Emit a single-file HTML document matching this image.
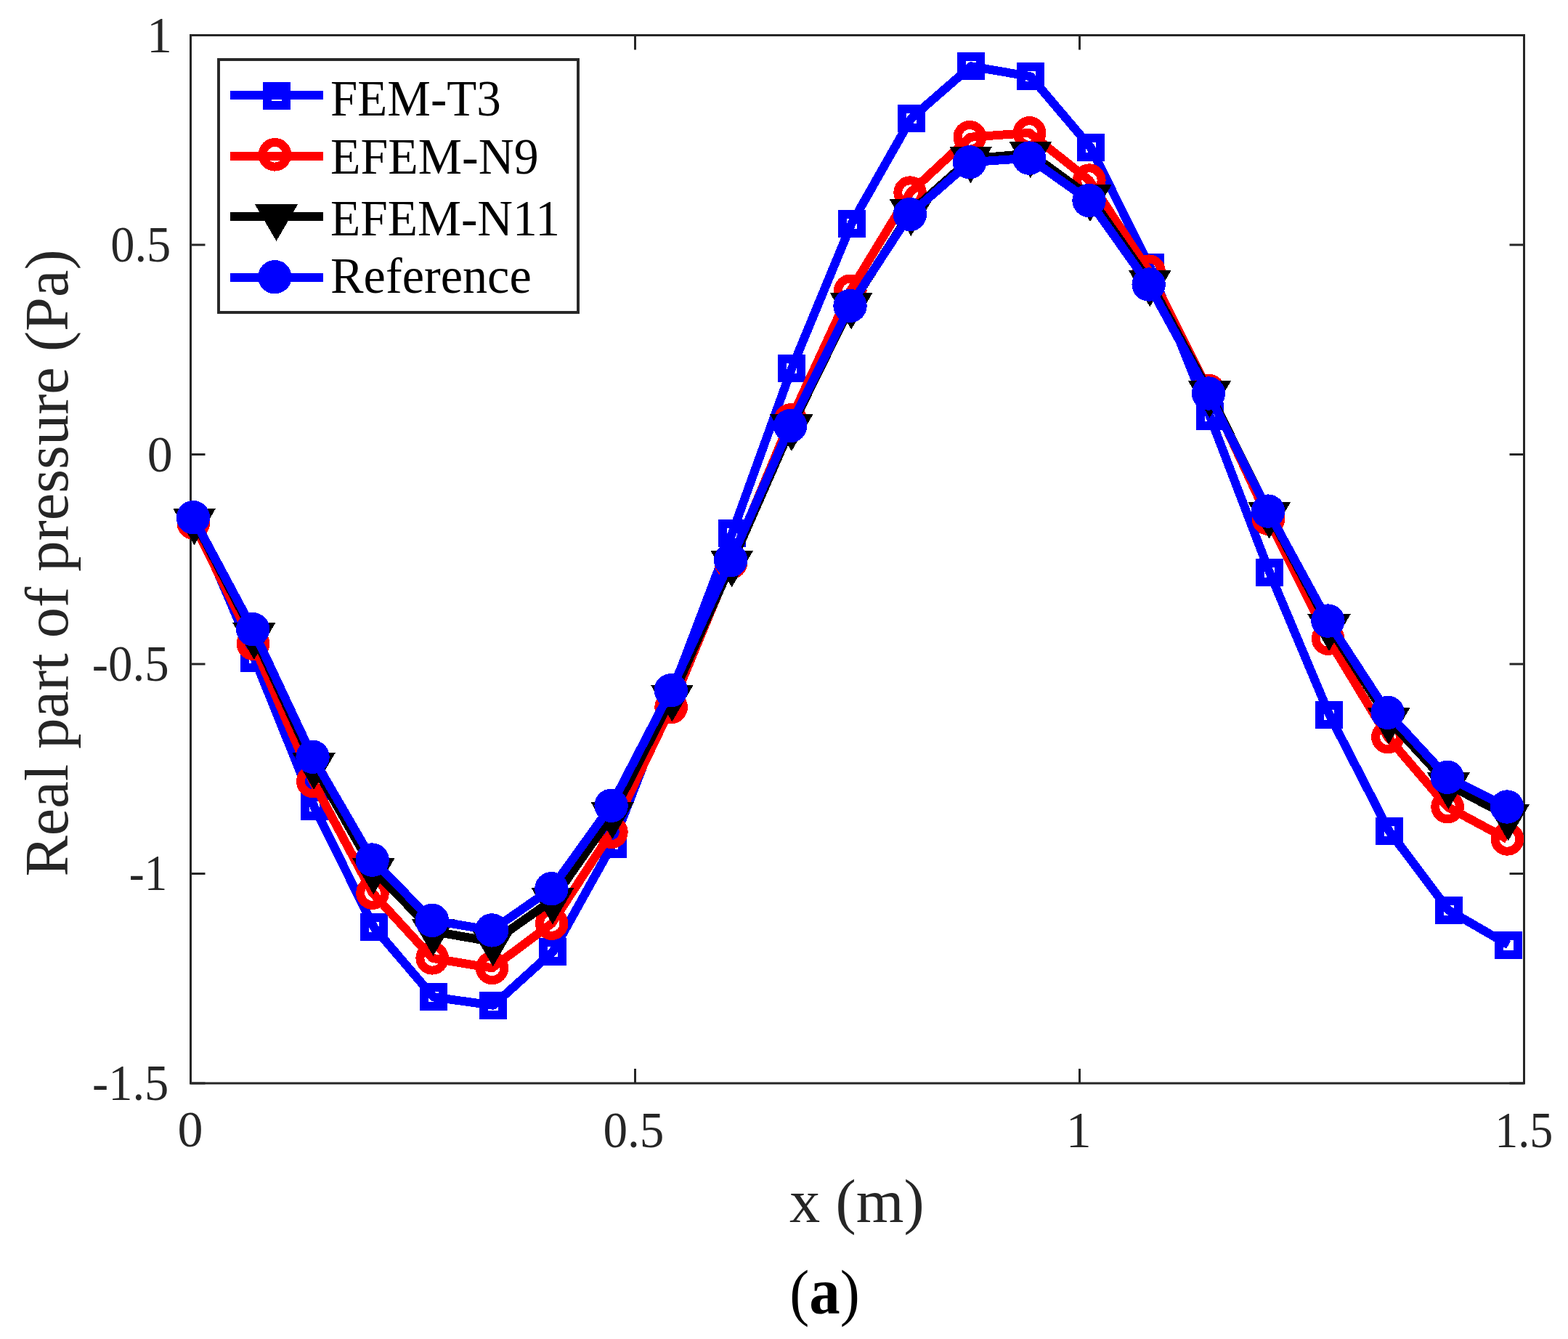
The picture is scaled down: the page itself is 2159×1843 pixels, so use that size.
<!DOCTYPE html><html><head><meta charset="utf-8"><style>html,body{margin:0;padding:0;background:#fff;}svg{display:block;}</style></head><body>
<svg width="2159" height="1843" viewBox="0 0 2159 1843">
<rect x="0" y="0" width="2159" height="1843" fill="#ffffff"/>
<rect x="262.5" y="48.5" width="1836.0" height="1442.5" fill="none" stroke="#262626" stroke-width="3"/>
<line x1="262.5" y1="1491.0" x2="262.5" y2="1471.0" stroke="#262626" stroke-width="3"/>
<line x1="262.5" y1="48.5" x2="262.5" y2="68.5" stroke="#262626" stroke-width="3"/>
<line x1="874.5" y1="1491.0" x2="874.5" y2="1471.0" stroke="#262626" stroke-width="3"/>
<line x1="874.5" y1="48.5" x2="874.5" y2="68.5" stroke="#262626" stroke-width="3"/>
<line x1="1486.5" y1="1491.0" x2="1486.5" y2="1471.0" stroke="#262626" stroke-width="3"/>
<line x1="1486.5" y1="48.5" x2="1486.5" y2="68.5" stroke="#262626" stroke-width="3"/>
<line x1="2098.5" y1="1491.0" x2="2098.5" y2="1471.0" stroke="#262626" stroke-width="3"/>
<line x1="2098.5" y1="48.5" x2="2098.5" y2="68.5" stroke="#262626" stroke-width="3"/>
<line x1="262.5" y1="48.5" x2="282.5" y2="48.5" stroke="#262626" stroke-width="3"/>
<line x1="2098.5" y1="48.5" x2="2078.5" y2="48.5" stroke="#262626" stroke-width="3"/>
<line x1="262.5" y1="337.0" x2="282.5" y2="337.0" stroke="#262626" stroke-width="3"/>
<line x1="2098.5" y1="337.0" x2="2078.5" y2="337.0" stroke="#262626" stroke-width="3"/>
<line x1="262.5" y1="625.5" x2="282.5" y2="625.5" stroke="#262626" stroke-width="3"/>
<line x1="2098.5" y1="625.5" x2="2078.5" y2="625.5" stroke="#262626" stroke-width="3"/>
<line x1="262.5" y1="914.0" x2="282.5" y2="914.0" stroke="#262626" stroke-width="3"/>
<line x1="2098.5" y1="914.0" x2="2078.5" y2="914.0" stroke="#262626" stroke-width="3"/>
<line x1="262.5" y1="1202.5" x2="282.5" y2="1202.5" stroke="#262626" stroke-width="3"/>
<line x1="2098.5" y1="1202.5" x2="2078.5" y2="1202.5" stroke="#262626" stroke-width="3"/>
<line x1="262.5" y1="1491.0" x2="282.5" y2="1491.0" stroke="#262626" stroke-width="3"/>
<line x1="2098.5" y1="1491.0" x2="2078.5" y2="1491.0" stroke="#262626" stroke-width="3"/>
<g shape-rendering="crispEdges">
<polyline points="268.0,714.0 350.2,905.9 432.5,1110.1 514.7,1276.1 596.9,1372.4 679.2,1383.7 761.4,1309.5 843.6,1161.9 925.8,951.0 1008.1,734.0 1090.3,506.7 1172.5,307.8 1254.8,162.7 1337.0,91.2 1419.2,105.4 1501.5,202.5 1583.7,367.9 1665.9,572.9 1748.1,787.8 1830.4,983.7 1912.6,1143.7 1994.8,1252.9 2077.1,1300.5" fill="none" stroke="#0000ff" stroke-width="12" stroke-linejoin="round"/>
<rect x="337.2" y="892.9" width="26" height="26" fill="none" stroke="#0000ff" stroke-width="12"/>
<rect x="419.5" y="1097.1" width="26" height="26" fill="none" stroke="#0000ff" stroke-width="12"/>
<rect x="501.7" y="1263.1" width="26" height="26" fill="none" stroke="#0000ff" stroke-width="12"/>
<rect x="583.9" y="1359.4" width="26" height="26" fill="none" stroke="#0000ff" stroke-width="12"/>
<rect x="666.2" y="1370.7" width="26" height="26" fill="none" stroke="#0000ff" stroke-width="12"/>
<rect x="748.4" y="1296.5" width="26" height="26" fill="none" stroke="#0000ff" stroke-width="12"/>
<rect x="830.6" y="1148.9" width="26" height="26" fill="none" stroke="#0000ff" stroke-width="12"/>
<rect x="995.1" y="721.0" width="26" height="26" fill="none" stroke="#0000ff" stroke-width="12"/>
<rect x="1077.3" y="493.7" width="26" height="26" fill="none" stroke="#0000ff" stroke-width="12"/>
<rect x="1159.5" y="294.8" width="26" height="26" fill="none" stroke="#0000ff" stroke-width="12"/>
<rect x="1241.8" y="149.7" width="26" height="26" fill="none" stroke="#0000ff" stroke-width="12"/>
<rect x="1324.0" y="78.2" width="26" height="26" fill="none" stroke="#0000ff" stroke-width="12"/>
<rect x="1406.2" y="92.4" width="26" height="26" fill="none" stroke="#0000ff" stroke-width="12"/>
<rect x="1488.5" y="189.5" width="26" height="26" fill="none" stroke="#0000ff" stroke-width="12"/>
<rect x="1570.7" y="354.9" width="26" height="26" fill="none" stroke="#0000ff" stroke-width="12"/>
<rect x="1652.9" y="559.9" width="26" height="26" fill="none" stroke="#0000ff" stroke-width="12"/>
<rect x="1735.1" y="774.8" width="26" height="26" fill="none" stroke="#0000ff" stroke-width="12"/>
<rect x="1817.4" y="970.7" width="26" height="26" fill="none" stroke="#0000ff" stroke-width="12"/>
<rect x="1899.6" y="1130.7" width="26" height="26" fill="none" stroke="#0000ff" stroke-width="12"/>
<rect x="1981.8" y="1239.9" width="26" height="26" fill="none" stroke="#0000ff" stroke-width="12"/>
<rect x="2064.1" y="1287.5" width="26" height="26" fill="none" stroke="#0000ff" stroke-width="12"/>
<polyline points="266.3,720.0 348.5,886.1 430.8,1075.5 513.0,1229.1 595.2,1318.8 677.5,1332.4 759.7,1271.1 841.9,1145.3 924.1,973.4 1006.4,774.4 1088.6,578.0 1170.8,400.3 1253.1,265.1 1335.3,188.8 1417.5,182.9 1499.8,248.1 1582.0,373.2 1664.2,537.4 1746.4,714.1 1828.7,879.1 1910.9,1014.5 1993.1,1110.6 2075.4,1154.9" fill="none" stroke="#ff0000" stroke-width="12" stroke-linejoin="round"/>
<circle cx="266.3" cy="720.0" r="16.8" fill="none" stroke="#ff0000" stroke-width="12"/>
<circle cx="348.5" cy="886.1" r="16.8" fill="none" stroke="#ff0000" stroke-width="12"/>
<circle cx="430.8" cy="1075.5" r="16.8" fill="none" stroke="#ff0000" stroke-width="12"/>
<circle cx="513.0" cy="1229.1" r="16.8" fill="none" stroke="#ff0000" stroke-width="12"/>
<circle cx="595.2" cy="1318.8" r="16.8" fill="none" stroke="#ff0000" stroke-width="12"/>
<circle cx="677.5" cy="1332.4" r="16.8" fill="none" stroke="#ff0000" stroke-width="12"/>
<circle cx="759.7" cy="1271.1" r="16.8" fill="none" stroke="#ff0000" stroke-width="12"/>
<circle cx="841.9" cy="1145.3" r="16.8" fill="none" stroke="#ff0000" stroke-width="12"/>
<circle cx="924.1" cy="973.4" r="16.8" fill="none" stroke="#ff0000" stroke-width="12"/>
<circle cx="1006.4" cy="774.4" r="16.8" fill="none" stroke="#ff0000" stroke-width="12"/>
<circle cx="1088.6" cy="578.0" r="16.8" fill="none" stroke="#ff0000" stroke-width="12"/>
<circle cx="1170.8" cy="400.3" r="16.8" fill="none" stroke="#ff0000" stroke-width="12"/>
<circle cx="1253.1" cy="265.1" r="16.8" fill="none" stroke="#ff0000" stroke-width="12"/>
<circle cx="1335.3" cy="188.8" r="16.8" fill="none" stroke="#ff0000" stroke-width="12"/>
<circle cx="1417.5" cy="182.9" r="16.8" fill="none" stroke="#ff0000" stroke-width="12"/>
<circle cx="1499.8" cy="248.1" r="16.8" fill="none" stroke="#ff0000" stroke-width="12"/>
<circle cx="1582.0" cy="373.2" r="16.8" fill="none" stroke="#ff0000" stroke-width="12"/>
<circle cx="1664.2" cy="537.4" r="16.8" fill="none" stroke="#ff0000" stroke-width="12"/>
<circle cx="1746.4" cy="714.1" r="16.8" fill="none" stroke="#ff0000" stroke-width="12"/>
<circle cx="1828.7" cy="879.1" r="16.8" fill="none" stroke="#ff0000" stroke-width="12"/>
<circle cx="1910.9" cy="1014.5" r="16.8" fill="none" stroke="#ff0000" stroke-width="12"/>
<circle cx="1993.1" cy="1110.6" r="16.8" fill="none" stroke="#ff0000" stroke-width="12"/>
<circle cx="2075.4" cy="1154.9" r="16.8" fill="none" stroke="#ff0000" stroke-width="12"/>
<polyline points="267.6,716.5 349.8,874.0 432.1,1053.2 514.3,1197.5 596.5,1282.0 678.8,1296.3 761.0,1238.7 843.2,1121.1 925.4,959.4 1007.7,774.4 1089.9,587.2 1172.1,419.6 1254.4,291.2 1336.6,218.5 1418.8,211.4 1501.0,271.2 1583.3,388.5 1665.5,541.1 1747.7,707.7 1830.0,862.3 1912.2,990.6 1994.4,1080.0 2076.7,1123.5" fill="none" stroke="#000000" stroke-width="12" stroke-linejoin="round"/>
<polygon points="238.0,699.6 297.2,699.6 267.6,750.4" fill="#000000"/>
<polygon points="320.2,857.1 379.4,857.1 349.8,907.9" fill="#000000"/>
<polygon points="402.5,1036.3 461.7,1036.3 432.1,1087.1" fill="#000000"/>
<polygon points="484.7,1180.6 543.9,1180.6 514.3,1231.4" fill="#000000"/>
<polygon points="566.9,1265.1 626.1,1265.1 596.5,1315.9" fill="#000000"/>
<polygon points="649.2,1279.4 708.4,1279.4 678.8,1330.2" fill="#000000"/>
<polygon points="731.4,1221.8 790.6,1221.8 761.0,1272.6" fill="#000000"/>
<polygon points="813.6,1104.2 872.8,1104.2 843.2,1155.0" fill="#000000"/>
<polygon points="895.8,942.5 955.0,942.5 925.4,993.3" fill="#000000"/>
<polygon points="978.1,757.5 1037.3,757.5 1007.7,808.3" fill="#000000"/>
<polygon points="1060.3,570.3 1119.5,570.3 1089.9,621.1" fill="#000000"/>
<polygon points="1142.5,402.7 1201.7,402.7 1172.1,453.5" fill="#000000"/>
<polygon points="1224.8,274.3 1284.0,274.3 1254.4,325.1" fill="#000000"/>
<polygon points="1307.0,201.6 1366.2,201.6 1336.6,252.4" fill="#000000"/>
<polygon points="1389.2,194.5 1448.4,194.5 1418.8,245.3" fill="#000000"/>
<polygon points="1471.5,254.3 1530.6,254.3 1501.0,305.1" fill="#000000"/>
<polygon points="1553.7,371.6 1612.9,371.6 1583.3,422.4" fill="#000000"/>
<polygon points="1635.9,524.2 1695.1,524.2 1665.5,575.0" fill="#000000"/>
<polygon points="1718.1,690.8 1777.3,690.8 1747.7,741.6" fill="#000000"/>
<polygon points="1800.4,845.4 1859.6,845.4 1830.0,896.2" fill="#000000"/>
<polygon points="1882.6,973.7 1941.8,973.7 1912.2,1024.5" fill="#000000"/>
<polygon points="1964.8,1063.1 2024.0,1063.1 1994.4,1113.9" fill="#000000"/>
<polygon points="2047.1,1106.6 2106.3,1106.6 2076.7,1157.4" fill="#000000"/>
<polyline points="266.0,712.2 348.2,866.2 430.5,1041.8 512.7,1183.6 594.9,1266.8 677.2,1280.4 759.4,1223.2 841.6,1108.8 923.8,950.3 1006.1,771.1 1088.3,586.0 1170.5,420.9 1252.8,295.1 1335.0,223.3 1417.2,217.6 1499.5,275.9 1581.7,391.5 1663.9,541.5 1746.1,703.6 1828.4,854.6 1910.6,980.8 1992.8,1069.8 2075.1,1110.5" fill="none" stroke="#0000ff" stroke-width="12" stroke-linejoin="round"/>
<circle cx="266.0" cy="712.2" r="23.2" fill="#0000ff"/>
<circle cx="348.2" cy="866.2" r="23.2" fill="#0000ff"/>
<circle cx="430.5" cy="1041.8" r="23.2" fill="#0000ff"/>
<circle cx="512.7" cy="1183.6" r="23.2" fill="#0000ff"/>
<circle cx="594.9" cy="1266.8" r="23.2" fill="#0000ff"/>
<circle cx="677.2" cy="1280.4" r="23.2" fill="#0000ff"/>
<circle cx="759.4" cy="1223.2" r="23.2" fill="#0000ff"/>
<circle cx="841.6" cy="1108.8" r="23.2" fill="#0000ff"/>
<circle cx="923.8" cy="950.3" r="23.2" fill="#0000ff"/>
<circle cx="1006.1" cy="771.1" r="23.2" fill="#0000ff"/>
<circle cx="1088.3" cy="586.0" r="23.2" fill="#0000ff"/>
<circle cx="1170.5" cy="420.9" r="23.2" fill="#0000ff"/>
<circle cx="1252.8" cy="295.1" r="23.2" fill="#0000ff"/>
<circle cx="1335.0" cy="223.3" r="23.2" fill="#0000ff"/>
<circle cx="1417.2" cy="217.6" r="23.2" fill="#0000ff"/>
<circle cx="1499.5" cy="275.9" r="23.2" fill="#0000ff"/>
<circle cx="1581.7" cy="391.5" r="23.2" fill="#0000ff"/>
<circle cx="1663.9" cy="541.5" r="23.2" fill="#0000ff"/>
<circle cx="1746.1" cy="703.6" r="23.2" fill="#0000ff"/>
<circle cx="1828.4" cy="854.6" r="23.2" fill="#0000ff"/>
<circle cx="1910.6" cy="980.8" r="23.2" fill="#0000ff"/>
<circle cx="1992.8" cy="1069.8" r="23.2" fill="#0000ff"/>
<circle cx="2075.1" cy="1110.5" r="23.2" fill="#0000ff"/>
</g>
<rect x="301" y="82" width="495" height="348" fill="#ffffff" stroke="#262626" stroke-width="3.9"/>
<g shape-rendering="crispEdges">
<line x1="316.8" y1="130.9" x2="445.0" y2="130.9" stroke="#0000ff" stroke-width="12"/>
<rect x="367.9" y="118.5" width="26" height="26" fill="none" stroke="#0000ff" stroke-width="12"/>
<line x1="316.8" y1="214.9" x2="445.0" y2="214.9" stroke="#ff0000" stroke-width="12"/>
<circle cx="378.4" cy="212.8" r="16.8" fill="none" stroke="#ff0000" stroke-width="12"/>
<line x1="316.8" y1="298.0" x2="445.0" y2="298.0" stroke="#000000" stroke-width="12"/>
<polygon points="350.9,281.1 410.1,281.1 380.5,331.9" fill="#000000"/>
<line x1="316.8" y1="381.7" x2="445.0" y2="381.7" stroke="#0000ff" stroke-width="12"/>
<circle cx="378.4" cy="381.2" r="23.2" fill="#0000ff"/>
</g>
<text transform="translate(201.95,71.8) scale(1.0000,1)" x="0" y="0" font-family="'Liberation Serif','Times New Roman',serif" font-size="70" fill="#262626">1</text>
<text transform="translate(152.15,359.8) scale(0.9500,1)" x="0" y="0" font-family="'Liberation Serif','Times New Roman',serif" font-size="70" fill="#262626">0.5</text>
<text transform="translate(202.80,648.5) scale(1.0000,1)" x="0" y="0" font-family="'Liberation Serif','Times New Roman',serif" font-size="70" fill="#262626">0</text>
<text transform="translate(126.73,937.2) scale(0.9562,1)" x="0" y="0" font-family="'Liberation Serif','Times New Roman',serif" font-size="70" fill="#262626">-0.5</text>
<text transform="translate(177.75,1225.0) scale(0.9000,1)" x="0" y="0" font-family="'Liberation Serif','Times New Roman',serif" font-size="70" fill="#262626">-1</text>
<text transform="translate(126.95,1514.1) scale(0.9514,1)" x="0" y="0" font-family="'Liberation Serif','Times New Roman',serif" font-size="70" fill="#262626">-1.5</text>
<text transform="translate(244.40,1578.2) scale(1.0000,1)" x="0" y="0" font-family="'Liberation Serif','Times New Roman',serif" font-size="70" fill="#262626">0</text>
<text transform="translate(830.42,1578.9) scale(0.9610,1)" x="0" y="0" font-family="'Liberation Serif','Times New Roman',serif" font-size="70" fill="#262626">0.5</text>
<text transform="translate(1467.85,1579.0) scale(1.0000,1)" x="0" y="0" font-family="'Liberation Serif','Times New Roman',serif" font-size="70" fill="#262626">1</text>
<text transform="translate(2058.20,1579.0) scale(0.9165,1)" x="0" y="0" font-family="'Liberation Serif','Times New Roman',serif" font-size="70" fill="#262626">1.5</text>
<text transform="translate(455.07,158.8) scale(0.9632,1)" x="0" y="0" font-family="'Liberation Serif','Times New Roman',serif" font-size="69.6" fill="#000">FEM-T3</text>
<text transform="translate(455.05,238.8) scale(0.9754,1)" x="0" y="0" font-family="'Liberation Serif','Times New Roman',serif" font-size="69.6" fill="#000">EFEM-N9</text>
<text transform="translate(455.06,323.6) scale(0.9691,1)" x="0" y="0" font-family="'Liberation Serif','Times New Roman',serif" font-size="69.6" fill="#000">EFEM-N11</text>
<text transform="translate(455.04,403.3) scale(0.9812,1)" x="0" y="0" font-family="'Liberation Serif','Times New Roman',serif" font-size="69.6" fill="#000">Reference</text>
<text transform="translate(1087.10,1682.4) scale(0.9951,1)" x="0" y="0" font-family="'Liberation Serif','Times New Roman',serif" font-size="85" fill="#262626">x (m)</text>
<text transform="translate(1087.32,1808.4) scale(0.9442,1)" x="0" y="0" font-family="'Liberation Serif','Times New Roman',serif" font-size="86" fill="#000">(<tspan font-weight="bold" font-size="90">a</tspan>)</text>
<g transform="translate(92.8,1206.59) rotate(-90)"><text transform="scale(0.9940,1)" x="0" y="0" font-family="'Liberation Serif','Times New Roman',serif" font-size="85" fill="#262626">Real part of pressure (Pa)</text></g>
</svg></body></html>
